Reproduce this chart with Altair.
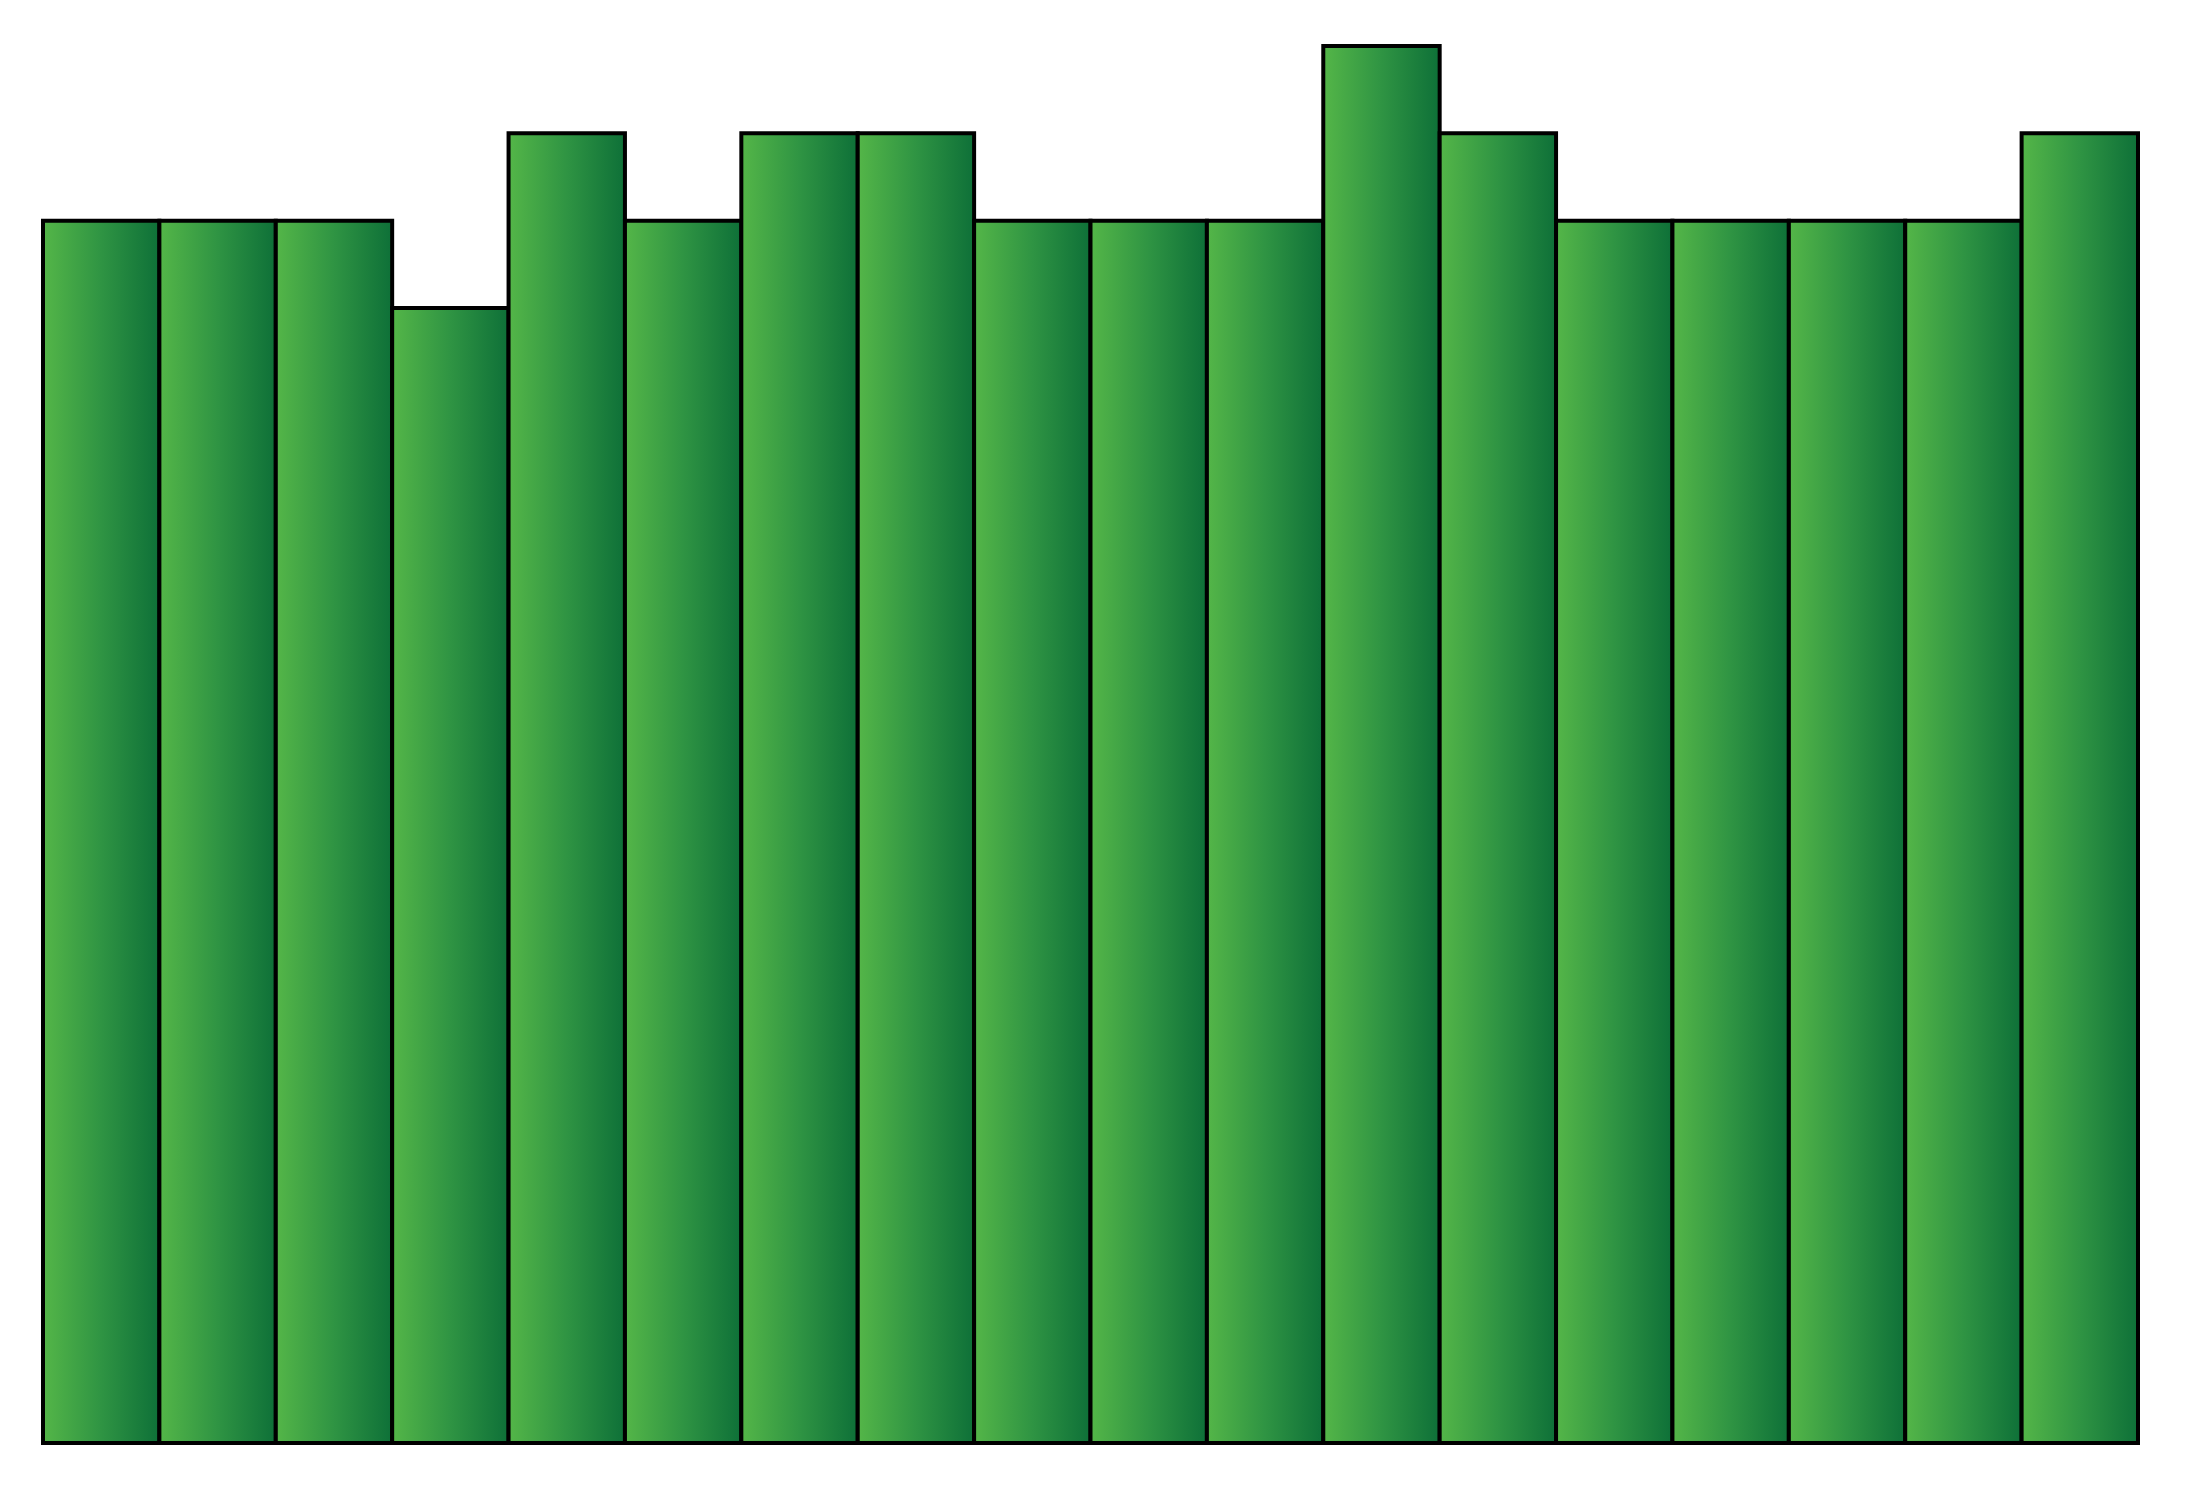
import altair as alt
import pandas as pd

bins = [str(i) for i in range(1, 19)]
counts = [14, 14, 14, 13, 15, 14, 15, 15, 14, 14, 14, 16, 15, 14, 14, 14, 14, 15]

df = pd.DataFrame({"bin": bins, "count": counts})

grad = alt.LinearGradient(
    gradient="linear",
    x1=0, x2=1, y1=0, y2=0,
    stops=[
        alt.GradientStop(color="#54B648", offset=0),
        alt.GradientStop(color="#2F9443", offset=0.5),
        alt.GradientStop(color="#0E7038", offset=1),
    ],
)

chart = (
    alt.Chart(df)
    .mark_bar(color=grad, stroke="#000000", strokeWidth=4, strokeOpacity=1, fillOpacity=1)
    .encode(
        x=alt.X("bin:O", sort=bins, axis=None,
                scale=alt.Scale(paddingInner=0, paddingOuter=0)),
        y=alt.Y("count:Q", axis=None, scale=alt.Scale(domain=[0, 16], nice=False, zero=True)),
    )
    .properties(
        width=2095,
        height=1397,
        padding={"left": 35, "top": 38, "right": 30, "bottom": 30},
        autosize=alt.AutoSizeParams(type="none"),
        background="white",
    )
    .configure_view(stroke=None)
)

chart.save("out.html", embed_options={"renderer": "svg", "actions": False})
